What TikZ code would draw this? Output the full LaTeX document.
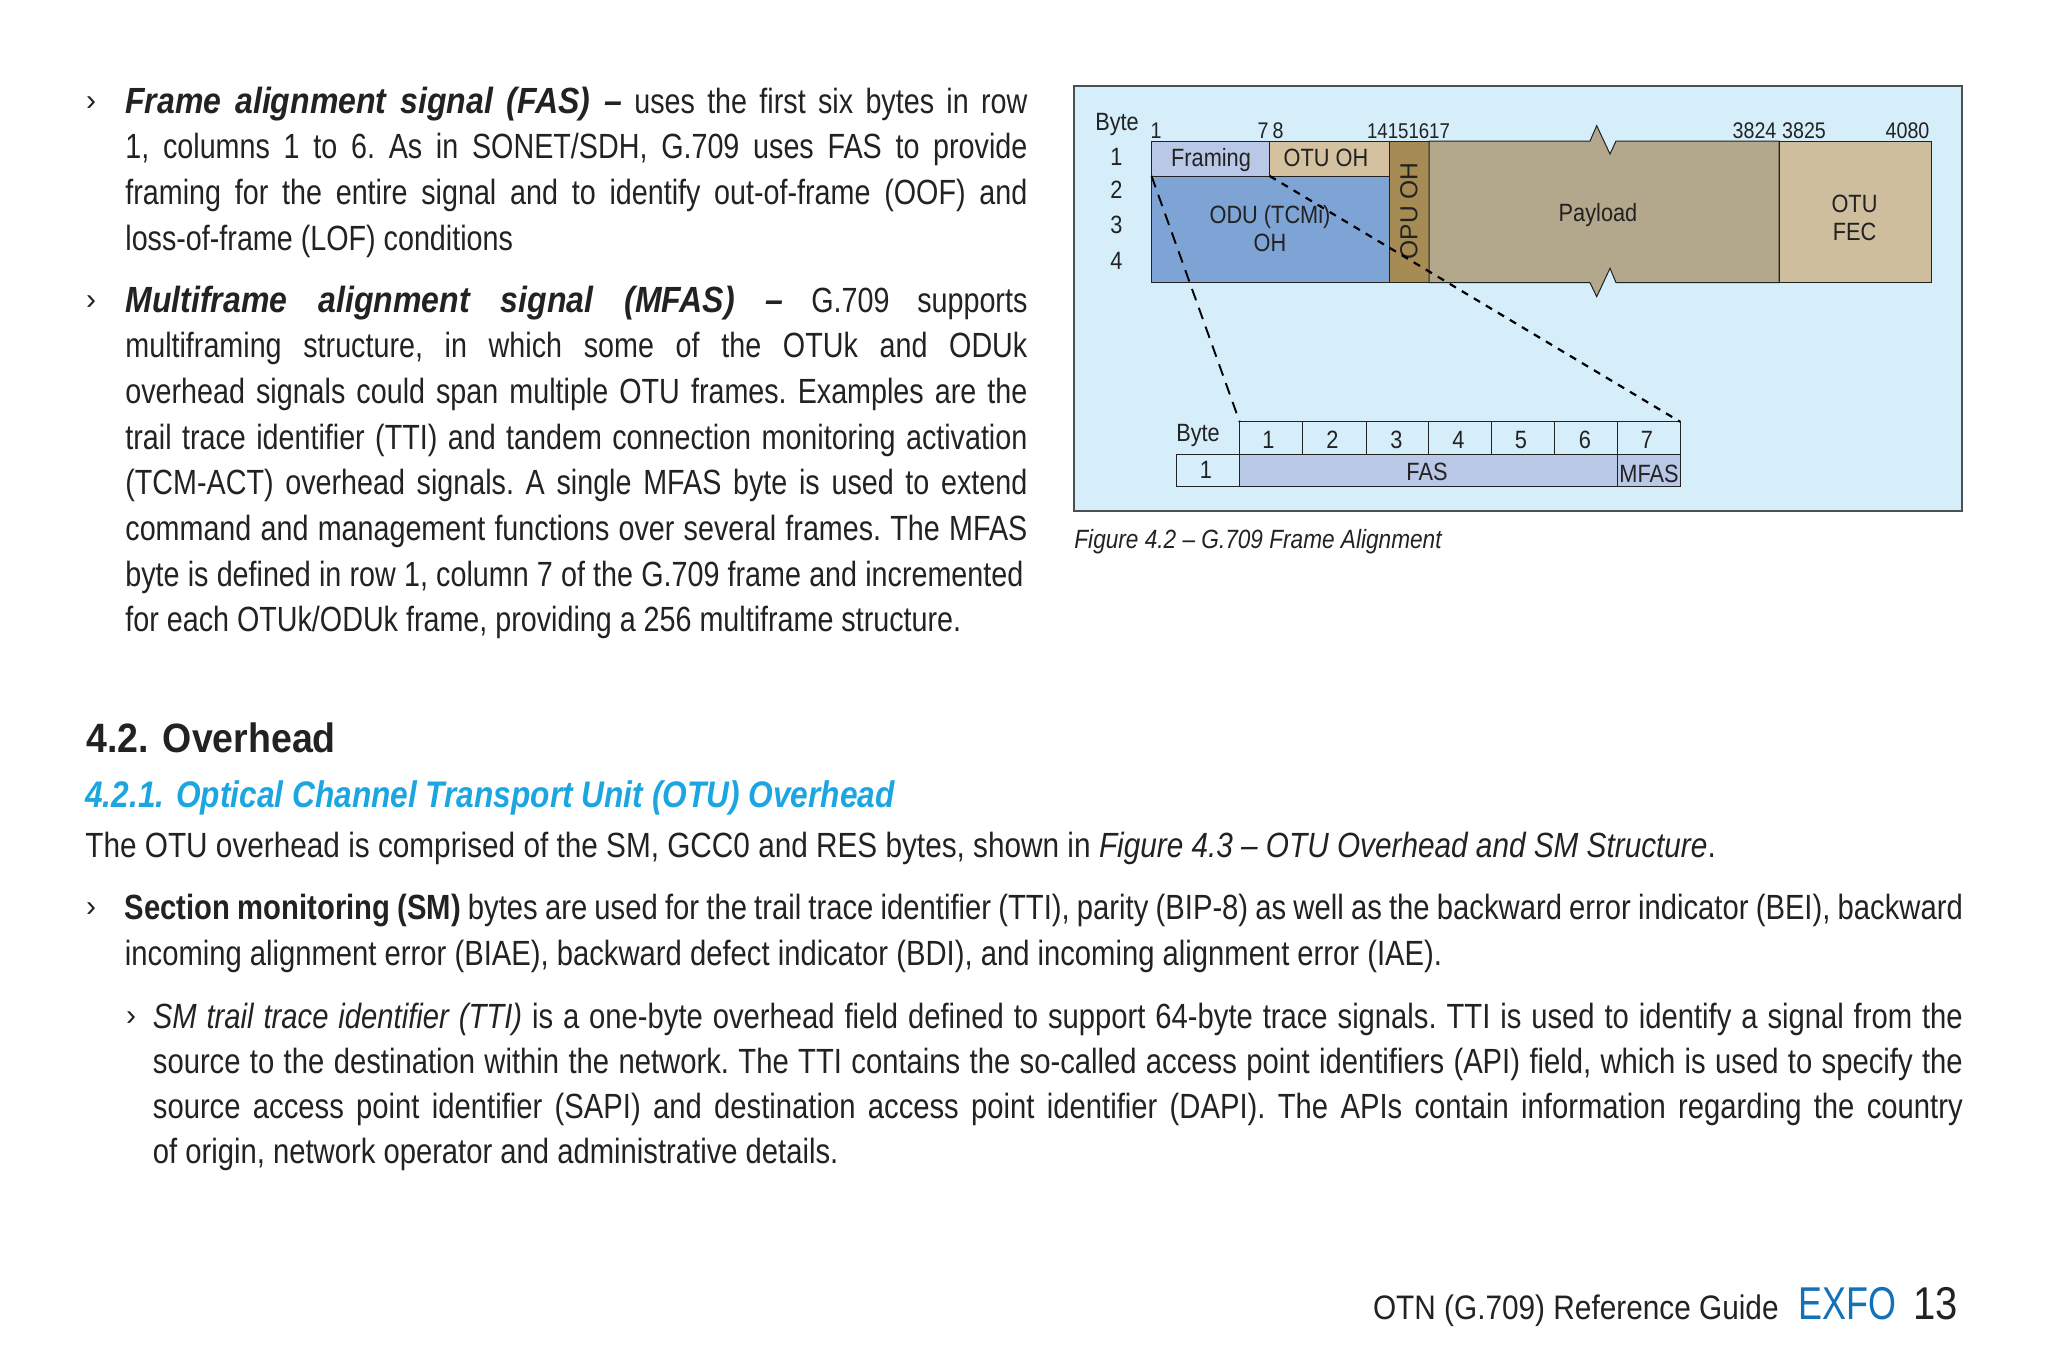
\documentclass[tikz,border=0pt]{standalone}
\usepackage{fontspec}
\setmainfont[FakeStretch=0.835]{Liberation Sans}
\newfontfamily\leftfont[FakeStretch=0.82]{Liberation Sans}
\newfontfamily\leftboldfont[FakeStretch=0.88]{Liberation Sans}
\newfontfamily\introfont[FakeStretch=0.85]{Liberation Sans}
\newfontfamily\diagfont[FakeStretch=0.87]{Liberation Sans}
\newfontfamily\capfont[FakeStretch=0.857]{Liberation Sans}
\newfontfamily\plainfont{Liberation Sans}
\newfontfamily\headfont[FakeStretch=0.915]{Liberation Sans}
\newfontfamily\subheadfont[FakeStretch=0.855]{Liberation Sans}
\newfontfamily\footfont[FakeStretch=0.876]{Liberation Sans}
\newfontfamily\exfofont[FakeStretch=0.78]{Liberation Sans}
\newcommand{\lblfont}{\diagfont\fontsize{12.5}{14}\selectfont}
\newcommand{\colfont}{\diagfont\fontsize{11.3}{13}\selectfont}
\newcommand{\leadin}[1]{{\leftboldfont\bfseries\itshape\fontsize{18.2}{22.85}\selectfont #1}}
\definecolor{ink}{HTML}{222222}
\definecolor{panel}{HTML}{D5EEFA}
\definecolor{edge}{HTML}{4A5052}
\definecolor{framingc}{HTML}{B9C8E6}
\definecolor{otuc}{HTML}{D3C19F}
\definecolor{oduc}{HTML}{7EA3D5}
\definecolor{opuc}{HTML}{A68B55}
\definecolor{payc}{HTML}{B3A78C}
\definecolor{fecc}{HTML}{CEBE9D}
\definecolor{headblue}{HTML}{1BA6E2}
\definecolor{exfoblue}{HTML}{1272B9}
\tikzset{
  lbl/.style={anchor=base,inner sep=0pt,text=ink,font=\lblfont},
  collbl/.style={anchor=base,inner sep=0pt,text=ink,font=\colfont},
  cell/.style={draw=ink,line width=0.5pt},
  bodytext/.style={anchor=base west,inner sep=0pt,text=ink,align=justify,
    font=\fontsize{17.5}{22.85}\selectfont\sloppy\frenchspacing},
  lefttext/.style={bodytext,font=\leftfont\fontsize{17.5}{22.85}\selectfont\sloppy\frenchspacing},
  bullet/.style={anchor=base,inner sep=0pt,text=ink,font=\plainfont\fontsize{15}{18}\selectfont},
  leader/.style={draw=black,line width=0.95pt,dash pattern=on 6pt off 4pt},
  leaderb/.style={draw=black,line width=1.1pt,dash pattern=on 3.6pt off 3.4pt}
}
\begin{document}
\begin{tikzpicture}[x=0.5pt,y=-0.5pt]
\useasboundingbox[fill=white] (0,0) rectangle (2048,1365);

% ---- text column left
\node[bullet] (b1) at (91,110) {›};
\node[lefttext,text width=451pt] (t1) at (125,113) {\leadin{Frame alignment signal (FAS) –} uses the first six bytes in row\linebreak
1, columns 1 to 6. As in SONET/SDH, G.709 uses FAS to provide\linebreak
framing for the entire signal and to identify out-of-frame (OOF) and\linebreak
loss-of-frame (LOF) conditions};
\node[bullet] (b2) at (91,309) {›};
\node[lefttext,text width=451pt] (t2) at (125,312) {\leadin{Multiframe alignment signal (MFAS) –} G.709 supports\linebreak
multiframing structure, in which some of the OTUk and ODUk\linebreak
overhead signals could span multiple OTU frames. Examples are the\linebreak
trail trace identifier (TTI) and tandem connection monitoring activation\linebreak
(TCM-ACT) overhead signals. A single MFAS byte is used to extend\linebreak
command and management functions over several frames. The MFAS\linebreak
byte is defined in row 1, column 7 of the G.709 frame and incremented\hspace*{2pt}\linebreak
for each OTUk/ODUk frame, providing a 256 multiframe structure.};

% ---- headings
\node[anchor=base west,inner sep=0pt,text=ink,font=\headfont\bfseries\fontsize{20.5}{24}\selectfont] (h1) at (86,752) {4.2. Overhead};
\node[anchor=base west,inner sep=0pt,text=headblue,font=\subheadfont\bfseries\itshape\fontsize{18.5}{22}\selectfont] (h2) at (85,807) {4.2.1. Optical Channel Transport Unit (OTU) Overhead};

\node[anchor=base west,inner sep=0pt,text=ink,font=\introfont\fontsize{17.5}{22.85}\selectfont] (t3) at (85,857) {\frenchspacing The OTU overhead is comprised of the SM, GCC0 and RES bytes, shown in \textit{Figure 4.3 – OTU Overhead and SM Structure}.};
\node[bullet] (b3) at (91,916.5) {›};
\node[bodytext,text width=919pt] (t4) at (124.5,919.5) {\textbf{Section monitoring (SM)} bytes are used for the trail trace identifier (TTI), parity (BIP-8) as well as the backward error indicator (BEI), backward\linebreak
incoming alignment error (BIAE), backward defect indicator (BDI), and incoming alignment error (IAE).};
\node[bullet] (b4) at (131,1025) {›};
\node[bodytext,text width=905pt,font=\fontsize{17.5}{22.65}\selectfont\sloppy\frenchspacing] (t5) at (152.5,1028) {\textit{SM trail trace identifier (TTI)} is a one-byte overhead field defined to support 64-byte trace signals. TTI is used to identify a signal from the\linebreak
source to the destination within the network. The TTI contains the so-called access point identifiers (API) field, which is used to specify the\linebreak
source access point identifier (SAPI) and destination access point identifier (DAPI). The APIs contain information regarding the country\linebreak
of origin, network operator and administrative details.};

% ---- footer
\node[anchor=base east,inner sep=0pt,text=ink,font=\footfont\fontsize{17}{20}\selectfont] (f1) at (1779,1319) {OTN (G.709) Reference Guide};
\node[anchor=base west,inner sep=0pt,text=exfoblue,font=\exfofont\fontsize{23}{26}\selectfont] (f2) at (1798,1319) {EXFO};
\node[anchor=base east,inner sep=0pt,text=ink,font=\diagfont\fontsize{23}{26}\selectfont] (f3) at (1958,1319) {13};

% ---- figure panel
\path[fill=panel,draw=edge,line width=1pt] (1074,86) rectangle (1962,511);

% coloured areas
\path[fill=framingc,cell] (1151.5,141) rectangle (1269.6,176);
\path[fill=otuc,cell] (1269.6,141) rectangle (1389,176);
\path[fill=oduc,cell] (1151.5,176) rectangle (1389,282.7);
\path[fill=opuc,cell] (1389,141) rectangle (1429,282.7);
\path[fill=payc,cell] (1429,141) -- (1590,141) -- (1596.7,125.7) -- (1610,154) -- (1616,141) -- (1779,141)
  -- (1779,282.7) -- (1616,282.7) -- (1610,268.3) -- (1596.7,296.7) -- (1590,282.7) -- (1429,282.7) -- cycle;
\path[fill=fecc,cell] (1779,141) rectangle (1931.5,282.7);

\coordinate (fasTL) at (1151.5,176);
\coordinate (fasTR) at (1269.6,176);
\coordinate (tabTL) at (1239.6,421.7);
\coordinate (tabTR) at (1680,421.7);

% row and column labels
\node[lbl] (byteA) at (1117,130) {Byte};
\node[lbl] (r1) at (1116.5,165) {1};
\node[lbl] (r2) at (1116.5,198.5) {2};
\node[lbl] (r3) at (1116.5,233.5) {3};
\node[lbl] (r4) at (1116.5,269.5) {4};
\node[collbl] (c1) at (1156,138) {1};
\node[collbl] (c7) at (1263,138) {7};
\node[collbl] (c8) at (1278,138) {8};
\node[collbl,font=\diagfont\fontsize{10.7}{13}\selectfont] (c14) at (1408.5,138) {14151617};
\node[collbl] (c3824) at (1754.5,138) {3824};
\node[collbl] (c3825) at (1804,138) {3825};
\node[collbl] (c4080) at (1907.5,138) {4080};

\node[lbl] (lframing) at (1211,166.7) {Framing};
\node[lbl] (lotu) at (1326,166.7) {OTU OH};
\node[lbl] (lodu) at (1270,223) {ODU (TCMi)};
\node[lbl] (lodu2) at (1270,251.7) {OH};
\node[anchor=center,inner sep=0pt,text=ink,font=\plainfont\fontsize{12.3}{14}\selectfont,rotate=90] (lopu) at (1409,211) {OPU OH};
\node[lbl] (lpay) at (1598,221.7) {Payload};
\node[lbl] (lfec1) at (1854.5,212) {OTU};
\node[lbl] (lfec2) at (1854.5,240.7) {FEC};

% lower table
\path[fill=panel,cell] (1176,454) rectangle (1239.6,486.7);
\path[fill=framingc,cell] (1239.6,454) rectangle (1617,486.7);
\path[fill=framingc,cell] (1617,454) rectangle (1680,486.7);
\foreach \xa/\xb in {1239.6/1302.5,1302.5/1366,1366/1428,1428/1491,1491/1554,1554/1617,1617/1680}
  \path[cell] (\xa,421.7) rectangle (\xb,454);

\node[lbl] (byteB) at (1198,441.7) {Byte};
\node[lbl] (d1) at (1268.5,448) {1};
\node[lbl] (d2) at (1332.5,448) {2};
\node[lbl] (d3) at (1396.5,448) {3};
\node[lbl] (d4) at (1458.5,448) {4};
\node[lbl] (d5) at (1521,448) {5};
\node[lbl] (d6) at (1585,448) {6};
\node[lbl] (d7) at (1647,448) {7};
\node[lbl] (tr1) at (1206,478) {1};
\node[lbl] (tfas) at (1427,480) {FAS};
\node[lbl] (tmfas) at (1649,482) {MFAS};

% leaders
\draw[leader] (fasTL) -- (tabTL);
\draw[leaderb] (fasTR) -- (tabTR);

% caption
\node[anchor=base west,inner sep=0pt,text=ink,font=\capfont\itshape\fontsize{13.2}{16}\selectfont] (cap) at (1074,548) {Figure 4.2 – G.709 Frame Alignment};
\end{tikzpicture}
\end{document}
